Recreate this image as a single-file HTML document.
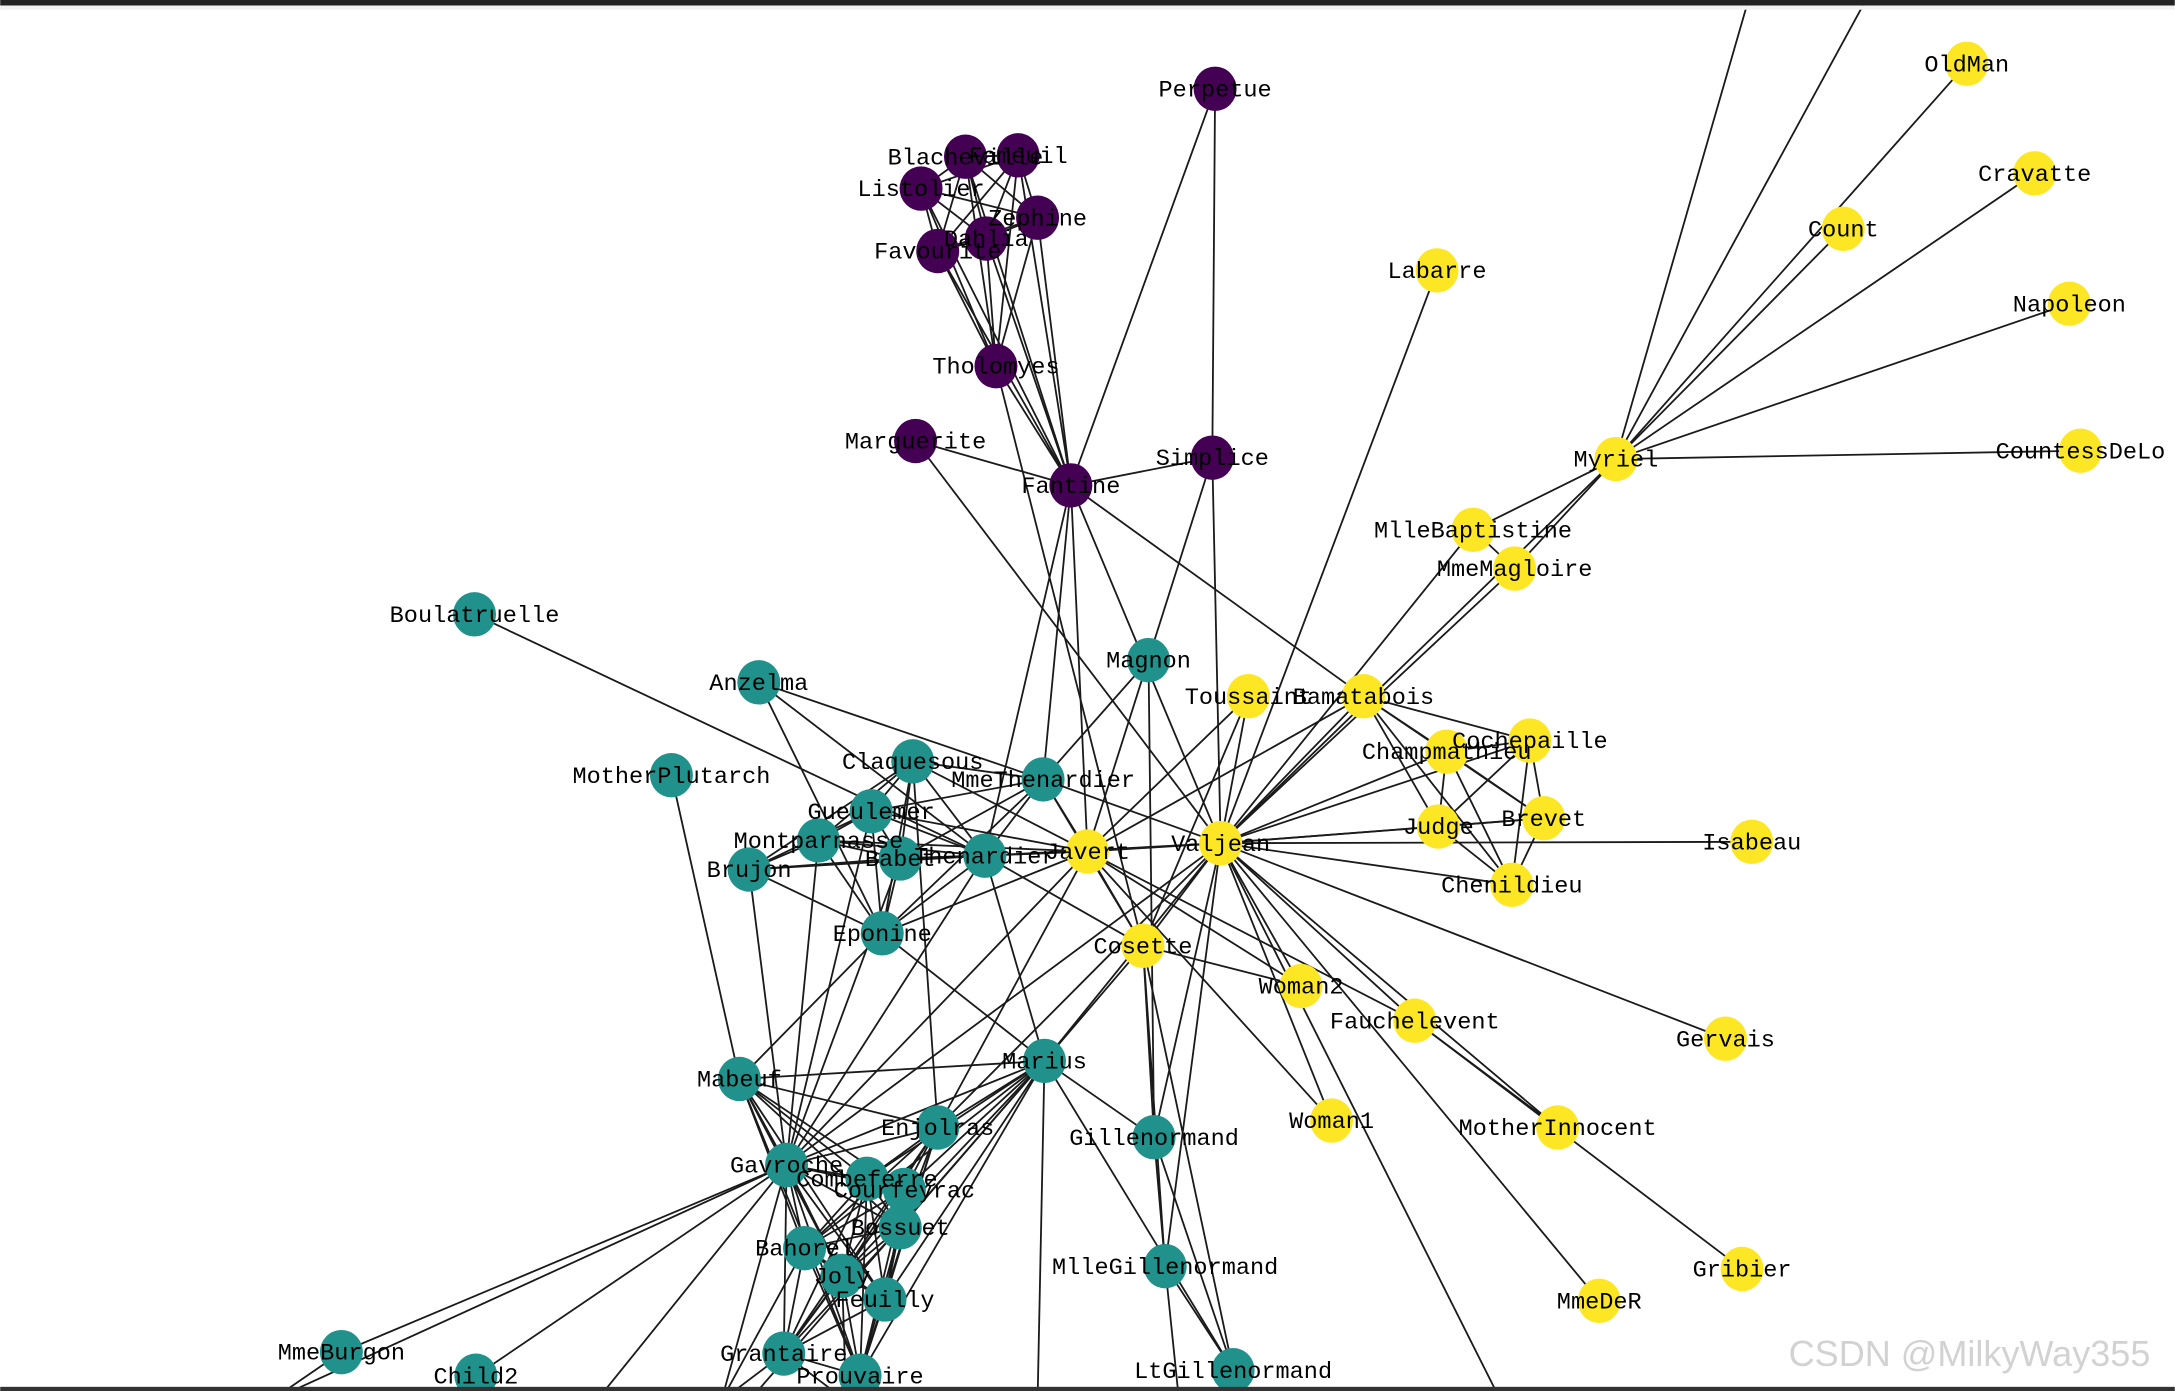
<!DOCTYPE html>
<html><head><meta charset="utf-8"><style>
html,body{margin:0;padding:0;background:#fff;width:2175px;height:1391px;overflow:hidden}
svg{display:block}
text{font-family:"Liberation Mono","DejaVu Sans Mono",monospace;font-size:17px;fill:#000;text-anchor:middle;dominant-baseline:central}
</style></head><body>
<svg id="s" width="2175" height="1391" viewBox="0 0 1568 1003" xmlns="http://www.w3.org/2000/svg">
<rect x="0" y="0" width="1568" height="1003" fill="#fff"/>
<g id="e" stroke="#1a1a1a" stroke-width="1.3" fill="none"></g>
<g id="n"></g>
<text x="1420" y="976" style="font-family:'Liberation Sans',sans-serif;font-size:26px;fill:#c8c8c8;opacity:0.8">CSDN @MilkyWay355</text>
<rect x="0" y="0" width="1568" height="4" fill="#222"/>
<rect x="0" y="4" width="1568" height="3" fill="#f2f2f2"/>
<rect x="0" y="1000" width="1568" height="3" fill="#333"/>
</svg>
<script>
var P='#440154',Y='#fde725',T='#21918c';
var N={
Perpetue:[876,64,P],Blacheville:[696,113,P],Fameuil:[734,112,P],Listolier:[664,136,P],Dahlia:[711,172,P],Zephine:[748,157,P],Favourite:[676,181,P],Tholomyes:[718,264,P],Marguerite:[660,318,P],Fantine:[772,350,P],Simplice:[874,330,P],
OldMan:[1418,46,Y],Cravatte:[1467,125,Y],Count:[1329,165,Y],Labarre:[1036,195,Y],Napoleon:[1492,219,Y],CountessDeLo:[1500,325,Y],Myriel:[1165,331,Y],MlleBaptistine:[1062,382,Y],MmeMagloire:[1092,410,Y],Toussaint:[900,502,Y],Bamatabois:[983,502,Y],Champmathieu:[1043,542,Y],Cochepaille:[1103,534,Y],Judge:[1037,596,Y],Brevet:[1113,590,Y],Isabeau:[1263,607,Y],Chenildieu:[1090,638,Y],Valjean:[880,608,Y],Javert:[784,614,Y],Cosette:[824,682,Y],Woman2:[938,711,Y],Fauchelevent:[1020,736,Y],Gervais:[1244,749,Y],Woman1:[960,808,Y],MotherInnocent:[1123,813,Y],Gribier:[1256,915,Y],MmeDeR:[1153,938,Y],
Boulatruelle:[342,443,T],Anzelma:[547,492,T],Magnon:[828,476,T],MotherPlutarch:[484,559,T],Claquesous:[658,549,T],MmeThenardier:[752,562,T],Gueulemer:[628,585,T],Montparnasse:[590,606,T],Babet:[649,619,T],Thenardier:[710,617,T],Brujon:[540,627,T],Eponine:[636,673,T],Marius:[753,765,T],Mabeuf:[533,778,T],Enjolras:[676,813,T],Gillenormand:[832,820,T],Gavroche:[567,840,T],Combeferre:[625,850,T],Courfeyrac:[652,858,T],Bossuet:[649,885,T],Bahorel:[580,900,T],Joly:[607,920,T],Feuilly:[638,937,T],MlleGillenormand:[840,913,T],MmeBurgon:[246,975,T],Child2:[343,992,T],Grantaire:[565,976,T],Prouvaire:[620,992,T],LtGillenormand:[889,988,T],
Scaufflaire:[1082,1010,Y,1],Champtercier:[1262,-5,Y,1],Geborand:[1348,-5,Y,1],Pontmercy:[748,1010,T,1],Child1:[195,1010,T,1],Baroness:[540,1010,T,1],X1:[430,1010,T,1],X2:[520,1010,T,1],X3:[610,1010,T,1],X4:[850,1010,T,1]};
var E=[];
function a(s,l){l.split(' ').forEach(function(t){E.push([s,t])})}
a('Myriel','Napoleon MlleBaptistine MmeMagloire CountessDeLo Champtercier Geborand Cravatte Count OldMan Valjean');
a('MlleBaptistine','MmeMagloire Valjean');a('MmeMagloire','Valjean');a('Labarre','Valjean');a('Marguerite','Fantine Valjean');
var cl='Blacheville Fameuil Listolier Dahlia Zephine Favourite Tholomyes Fantine'.split(' ');
for(var i=0;i<cl.length;i++)for(var j=i+1;j<cl.length;j++)E.push([cl[i],cl[j]]);
a('Perpetue','Fantine Simplice');a('Simplice','Fantine Valjean Javert');
a('Fantine','Valjean Javert Thenardier MmeThenardier Bamatabois');a('Tholomyes','Cosette');
a('Valjean','Isabeau Gervais Judge Champmathieu Brevet Chenildieu Cochepaille Bamatabois Woman1 Woman2 Cosette Javert Fauchelevent MotherInnocent MmeDeR Toussaint Thenardier MmeThenardier Marius Gillenormand MlleGillenormand Gavroche Scaufflaire Enjolras');
a('Bamatabois','Judge Champmathieu Brevet Chenildieu Cochepaille Javert');
a('Judge','Champmathieu Brevet Chenildieu Cochepaille');a('Champmathieu','Brevet Chenildieu Cochepaille');a('Brevet','Chenildieu Cochepaille');a('Chenildieu','Cochepaille');
a('Fauchelevent','MotherInnocent Gribier Javert');a('Woman1','Javert');a('Woman2','Javert Cosette');
a('Javert','Thenardier MmeThenardier Toussaint Cosette Gueulemer Babet Claquesous Montparnasse Eponine Enjolras Gavroche');
a('Cosette','Thenardier MmeThenardier Marius Gillenormand MlleGillenormand LtGillenormand Toussaint');
a('Magnon','Gillenormand MmeThenardier');
a('Thenardier','MmeThenardier Anzelma Eponine Gueulemer Babet Claquesous Montparnasse Brujon Marius Gavroche Boulatruelle');
a('MmeThenardier','Anzelma Eponine Babet Claquesous Gueulemer');a('Anzelma','Eponine');
a('Gueulemer','Babet Claquesous Montparnasse Brujon Eponine Gavroche');a('Babet','Claquesous Montparnasse Brujon Eponine Gavroche');
a('Claquesous','Montparnasse Brujon Eponine Enjolras');a('Montparnasse','Brujon Eponine Gavroche');a('Brujon','Eponine Gavroche');
a('MotherPlutarch','Mabeuf');
a('Mabeuf','Marius Gavroche Enjolras Combeferre Courfeyrac Bossuet Bahorel Joly Feuilly Prouvaire Eponine');
a('Marius','Eponine Gillenormand LtGillenormand Enjolras Combeferre Courfeyrac Bossuet Bahorel Joly Feuilly Gavroche Prouvaire Pontmercy Baroness');
a('Gillenormand','MlleGillenormand LtGillenormand');a('MlleGillenormand','LtGillenormand X4');
var fr='Enjolras Combeferre Courfeyrac Bossuet Bahorel Joly Feuilly Grantaire Prouvaire Gavroche'.split(' ');
for(i=0;i<fr.length;i++)for(j=i+1;j<fr.length;j++)E.push([fr[i],fr[j]]);
a('Gavroche','MmeBurgon Child2 Child1 X1 X2');a('MmeBurgon','Child1');a('Grantaire','X2 X3');a('Prouvaire','X3');a('Bahorel','X2');a('Joly','X3');
var ns='http://www.w3.org/2000/svg',ge=document.getElementById('e'),gn=document.getElementById('n');
E.forEach(function(p){var A=N[p[0]],B=N[p[1]];if(!A||!B)return;var l=document.createElementNS(ns,'line');l.setAttribute('x1',A[0]);l.setAttribute('y1',A[1]);l.setAttribute('x2',B[0]);l.setAttribute('y2',B[1]);ge.appendChild(l)});
for(var k in N){var v=N[k];if(v[3])continue;var c=document.createElementNS(ns,'ellipse');c.setAttribute('cx',v[0]);c.setAttribute('cy',v[1]);c.setAttribute('rx',15.5);c.setAttribute('ry',16);c.setAttribute('fill',v[2]);gn.appendChild(c);}
for(k in N){v=N[k];if(v[3])continue;var t=document.createElementNS(ns,'text');t.setAttribute('x',v[0]);t.setAttribute('y',v[1]+1.5);t.textContent=k;gn.appendChild(t);}
</script>
</body></html>
